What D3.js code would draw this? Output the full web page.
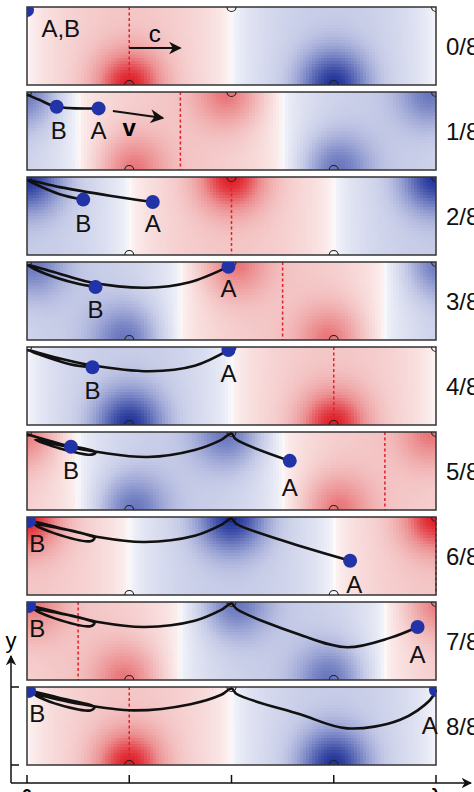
<!DOCTYPE html>
<html><head><meta charset="utf-8">
<script src="https://cdn.jsdelivr.net/npm/d3@7"></script>
<style>body{margin:0;background:#fff}svg{display:block}</style>
</head><body>
<script>
// wave crest (dashed line) position per frame, in units of lambda/4
var crest = [1, 1.5, 2, 2.5, 3, 3.5, 4, 0.5, 1];
var frameLabels = ["0/8", "1/8", "2/8", "3/8", "4/8", "5/8", "6/8", "7/8", "8/8"];
var topSources = [0, 2, 4], bottomSources = [1, 3];

// trajectory per frame: [x, y], x in 0..4, y in 0..1 (1 = top)
var paths = [
  [[0, 0.96]],
  [[0, 0.97], [0.12, 0.9], [0.29, 0.81], [0.70, 0.79]],
  [[0.55, 0.71], [0.32, 0.78], [0.08, 0.91], [0.01, 0.96], [0.32, 0.87], [0.81, 0.76], [1.23, 0.68]],
  [[0.67, 0.68], [0.47, 0.73], [0.18, 0.85], [0.01, 0.96], [0.27, 0.87], [0.62, 0.74], [1.17, 0.67], [1.59, 0.74], [1.97, 0.94]],
  [[0.64, 0.74], [0.42, 0.78], [0.13, 0.90], [0.01, 0.96], [0.27, 0.87], [0.62, 0.77], [1.20, 0.69], [1.64, 0.76], [1.97, 0.96]],
  [[0, 0.97], [0.32, 0.85], [0.67, 0.74], [0.63, 0.71], [0.32, 0.79], [0.08, 0.90], [0.32, 0.83], [0.71, 0.74], [1.18, 0.68], [1.64, 0.77], [1.9, 0.9], [2.0, 0.98], [2.04, 0.91], [2.57, 0.63]],
  [[0, 0.96], [0.32, 0.86], [0.66, 0.73], [0.62, 0.69], [0.27, 0.79], [0.08, 0.90], [0.42, 0.83], [0.71, 0.74], [1.15, 0.68], [1.64, 0.76], [1.9, 0.9], [2.0, 0.98], [2.05, 0.91], [3.16, 0.44]],
  [[0, 0.96], [0.32, 0.86], [0.66, 0.73], [0.62, 0.69], [0.27, 0.79], [0.08, 0.90], [0.42, 0.83], [0.71, 0.74], [1.15, 0.68], [1.64, 0.76], [1.9, 0.9], [2.0, 0.98], [2.05, 0.91], [2.67, 0.58], [3.13, 0.42], [3.55, 0.54], [3.82, 0.68]],
  [[0, 0.96], [0.32, 0.86], [0.66, 0.74], [0.62, 0.70], [0.27, 0.79], [0.08, 0.90], [0.45, 0.80], [1.04, 0.70], [1.6, 0.78], [1.9, 0.9], [2.0, 0.98], [2.05, 0.91], [2.67, 0.65], [3.13, 0.47], [3.65, 0.58], [3.94, 0.83], [4, 0.96]]
];
// dots and labels: [x, y] of A and B
var dotA = [null, [0.70, 0.79], [1.23, 0.68], [1.97, 0.94], [1.97, 0.96], [2.57, 0.63], [3.16, 0.44], [3.82, 0.68], [4, 0.96]];
var dotB = [[0, 0.96], [0.29, 0.81], [0.55, 0.71], [0.67, 0.68], [0.64, 0.74], [0.43, 0.81], [0.02, 0.95], [0.02, 0.95], [0.02, 0.95]];
var labelA = [null, [0.70, 0.4], [1.23, 0.3], [1.97, 0.55], [1.97, 0.55], [2.57, 0.18], [3.2, 0.02], [3.82, 0.22], [3.94, 0.4]];
var labelB = [[0.33, 0.62], [0.31, 0.4], [0.55, 0.3], [0.67, 0.28], [0.64, 0.33], [0.43, 0.4], [0.1, 0.55], [0.1, 0.55], [0.1, 0.55]];

var W = 474, H = 792, x0 = 27, x1 = 436, pTop = 7, pH = 78, pStep = 85;
var font = "Liberation Sans, Arial, sans-serif";
var svg = d3.select("body").append("svg").attr("width", W).attr("height", H);
var defs = svg.append("defs");
defs.append("marker").attr("id", "ah").attr("viewBox", "0 0 10 10").attr("refX", 9).attr("refY", 5)
  .attr("markerWidth", 7).attr("markerHeight", 7).attr("orient", "auto")
  .append("path").attr("d", "M0,0L10,5L0,10L3,5Z").attr("fill", "#111");

var x = d3.scaleLinear().domain([0, 4]).range([x0, x1]);
var color = d3.scaleLinear().domain([-1, -0.6, -0.3, 0, 0.3, 0.6, 1])
  .range(["#24359a", "#7f8bc8", "#c6cbe7", "#ffffff", "#f4c6c6", "#ec8f91", "#e0202a"]).clamp(true);

var cell = 3, nx = Math.ceil((x1 - x0) / cell), ny = Math.ceil(pH / cell);

crest.forEach(function (xc, i) {
  var top = pTop + i * pStep;
  var y = d3.scaleLinear().domain([0, 1]).range([top + pH, top]);
  var g = svg.append("g");
  defs.append("clipPath").attr("id", "c" + i).append("rect")
    .attr("x", x0).attr("y", top).attr("width", x1 - x0).attr("height", pH);
  var field = g.append("g").attr("clip-path", "url(#c" + i + ")");
  var cells = [];
  for (var a = 0; a < nx; a++) for (var b = 0; b < ny; b++) cells.push([a, b]);
  var srcs = topSources.map(function (s) { return [s, 1]; }).concat(bottomSources.map(function (s) { return [s, 0]; }));
  field.selectAll("rect").data(cells).enter().append("rect")
    .attr("x", function (d) { return x0 + d[0] * cell; })
    .attr("y", function (d) { return top + d[1] * cell; })
    .attr("width", cell + 0.5).attr("height", cell + 0.5)
    .attr("shape-rendering", "crispEdges")
    .attr("fill", function (d) {
      var px = x0 + (d[0] + 0.5) * cell, py = top + (d[1] + 0.5) * cell;
      var ux = x.invert(px);
      var c = Math.cos(Math.PI / 2 * (ux - xc));
      var base = (c < 0 ? -1 : 1) * Math.pow(Math.abs(c), 0.45);
      var bump = 0;
      srcs.forEach(function (s) {
        var dx = x(s[0]) - px, dy = y(s[1]) - py;
        var w = Math.abs(Math.cos(Math.PI / 2 * (s[0] - xc)));
        bump += w * Math.exp(-(dx * dx + dy * dy) / (2 * 24 * 24));
      });
      return color(base * (0.29 + 0.72 * bump));
    });
  // dashed crest line
  g.append("line").attr("x1", x(xc)).attr("x2", x(xc)).attr("y1", top).attr("y2", top + pH)
    .attr("stroke", "#e0202a").attr("stroke-width", 1.5).attr("stroke-dasharray", "3,2.5");
  // source markers
  topSources.forEach(function (s) {
    g.append("circle").attr("cx", x(s)).attr("cy", top).attr("r", 4.5)
      .attr("fill", "none").attr("stroke", "#222").attr("stroke-width", 1.2).attr("clip-path", "url(#c" + i + ")");
  });
  bottomSources.forEach(function (s) {
    g.append("circle").attr("cx", x(s)).attr("cy", top + pH).attr("r", 4.5)
      .attr("fill", "none").attr("stroke", "#222").attr("stroke-width", 1.2).attr("clip-path", "url(#c" + i + ")");
  });
  g.append("rect").attr("x", x0).attr("y", top).attr("width", x1 - x0).attr("height", pH)
    .attr("fill", "none").attr("stroke", "#333").attr("stroke-width", 1.5);
  // trajectory
  var line = d3.line().curve(d3.curveCatmullRom.alpha(0.5))
    .x(function (d) { return x(d[0]); }).y(function (d) { return y(d[1]); });
  if (paths[i].length > 1)
    g.append("path").attr("d", line(paths[i])).attr("fill", "none").attr("stroke", "#111").attr("stroke-width", 2.6);
  var dots = g.append("g").attr("clip-path", "url(#c" + i + ")");
  [dotB[i], dotA[i]].forEach(function (p) {
    if (p) dots.append("circle").attr("cx", x(p[0])).attr("cy", y(p[1])).attr("r", 7).attr("fill", "#2233a8");
  });
  var lab = i === 0 ? [["A,B", labelB[0]]] : [["A", labelA[i]], ["B", labelB[i]]];
  lab.forEach(function (l) {
    g.append("text").attr("x", x(l[1][0])).attr("y", y(l[1][1])).attr("text-anchor", "middle")
      .attr("font-family", font).attr("font-size", 24).attr("fill", "#111").text(l[0]);
  });
  g.append("text").attr("x", 446).attr("y", top + pH / 2 + 9)
    .attr("font-family", font).attr("font-size", 24).attr("fill", "#111").text(frameLabels[i]);
});

// c and v arrows
var t0 = pTop, t1 = pTop + pStep;
svg.append("line").attr("x1", x(1)).attr("y1", t0 + 41).attr("x2", x(1.5)).attr("y2", t0 + 41)
  .attr("stroke", "#111").attr("stroke-width", 1.8).attr("marker-end", "url(#ah)");
svg.append("text").attr("x", x(1.25)).attr("y", t0 + 35).attr("text-anchor", "middle")
  .attr("font-family", font).attr("font-size", 24).text("c");
svg.append("line").attr("x1", x(0.84)).attr("y1", t1 + 19).attr("x2", x(1.33)).attr("y2", t1 + 26)
  .attr("stroke", "#111").attr("stroke-width", 2).attr("marker-end", "url(#ah)");
svg.append("text").attr("x", x(1.0)).attr("y", t1 + 44).attr("text-anchor", "middle")
  .attr("font-family", font).attr("font-size", 24).attr("font-weight", "bold").text("v");

// axes
var axY = 783, axX = 11;
svg.append("line").attr("x1", axX).attr("y1", axY).attr("x2", 471).attr("y2", axY)
  .attr("stroke", "#111").attr("stroke-width", 1.5).attr("marker-end", "url(#ah)");
svg.append("line").attr("x1", axX).attr("y1", axY).attr("x2", axX).attr("y2", 656)
  .attr("stroke", "#111").attr("stroke-width", 1.5).attr("marker-end", "url(#ah)");
d3.range(0, 5).forEach(function (t) {
  svg.append("line").attr("x1", x(t)).attr("x2", x(t)).attr("y1", axY).attr("y2", axY - 8)
    .attr("stroke", "#111").attr("stroke-width", 1.5);
});
var last = pTop + 8 * pStep;
[last, last + pH].forEach(function (ty) {
  svg.append("line").attr("x1", axX).attr("x2", axX + 8).attr("y1", ty).attr("y2", ty)
    .attr("stroke", "#111").attr("stroke-width", 1.5);
});
svg.append("text").attr("x", axX).attr("y", 648).attr("text-anchor", "middle")
  .attr("font-family", font).attr("font-size", 22).text("y");
svg.append("text").attr("x", x(0)).attr("y", 802).attr("text-anchor", "middle")
  .attr("font-family", font).attr("font-size", 18).attr("font-weight", "bold").text("0");
svg.append("text").attr("x", x(4)).attr("y", 802).attr("text-anchor", "middle")
  .attr("font-family", font).attr("font-size", 18).attr("font-weight", "bold").text("λ");
</script>
</body></html>
